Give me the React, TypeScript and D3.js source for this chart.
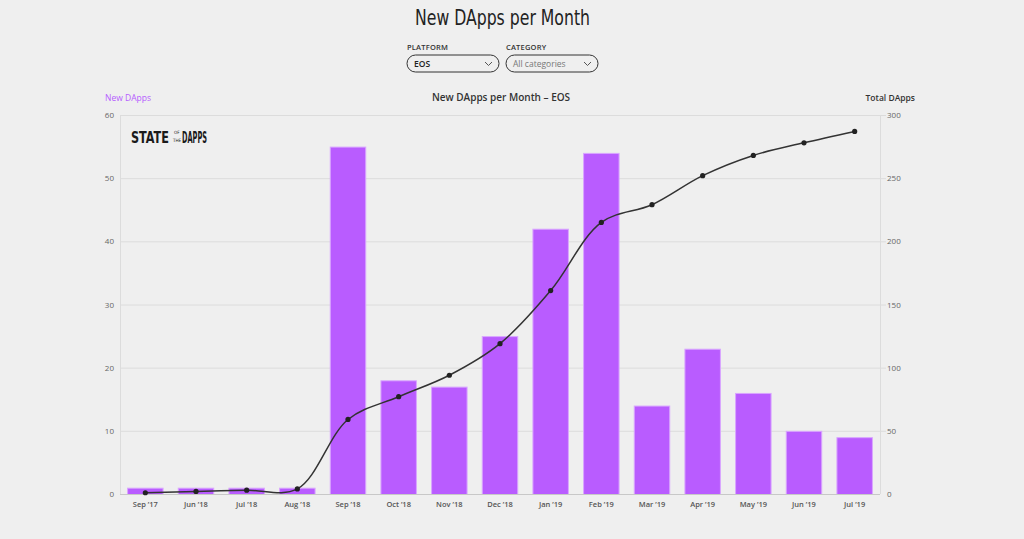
import { useEffect, useRef } from 'react';
import * as d3 from 'd3';

const months = ["Sep '17", "Jun '18", "Jul '18", "Aug '18", "Sep '18", "Oct '18", "Nov '18", "Dec '18", "Jan '19", "Feb '19", "Mar '19", "Apr '19", "May '19", "Jun '19", "Jul '19"];
const newDapps = [1, 1, 1, 1, 55, 18, 17, 25, 42, 54, 14, 23, 16, 10, 9];
const totalDapps = [1, 2, 3, 4, 59, 77, 94, 119, 161, 215, 229, 252, 268, 278, 287];
const leftTicks = [0, 10, 20, 30, 40, 50, 60];
const rightTicks = [0, 50, 100, 150, 200, 250, 300];

const W = 1024;
const H = 539;
const COLORS = {
  bg: '#efefef',
  bar: '#b95cff',
  barStroke: '#d9a6ff',
  line: '#333333',
  grid: '#dcdcdc',
  axis: '#c8c8c8',
  tick: '#666666',
  text: '#333333',
  purple: '#b65cff',
};
const COND = '"DejaVu Sans Condensed", "DejaVu Sans", sans-serif';
const SANS = '"Open Sans", "Noto Sans", sans-serif';

export default function App() {
  const svgRef = useRef<SVGSVGElement>(null);

  useEffect(() => {
    if (!svgRef.current) return;
    const svg = d3.select(svgRef.current);
    svg.selectAll('*').remove();

    const m = { left: 120, right: 880, top: 115, bottom: 494 };

    svg.append('rect').attr('width', W).attr('height', H).attr('fill', COLORS.bg);

    // page title
    svg.append('text')
      .attr('x', 415).attr('y', 25)
      .attr('font-family', COND)
      .attr('font-size', 22)
      .attr('font-stretch', 'condensed')
      .attr('textLength', 175)
      .attr('lengthAdjust', 'spacingAndGlyphs')
      .attr('fill', '#222')
      .text('New DApps per Month');

    // dropdowns
    const drops = [
      { label: 'PLATFORM', value: 'EOS', x: 407, color: '#222' },
      { label: 'CATEGORY', value: 'All categories', x: 506, color: '#777' },
    ];
    drops.forEach((d) => {
      svg.append('text')
        .attr('x', d.x).attr('y', 50)
        .attr('font-family', SANS).attr('font-size', 7.5).attr('font-weight', 600)
        .attr('fill', '#333').attr('letter-spacing', 0.2)
        .text(d.label);
      svg.append('rect')
        .attr('x', d.x).attr('y', 55).attr('width', 92).attr('height', 17)
        .attr('rx', 8.5).attr('fill', 'none').attr('stroke', '#333').attr('stroke-width', 1);
      svg.append('text')
        .attr('x', d.x + 7).attr('y', 66.5)
        .attr('font-family', SANS).attr('font-size', 8.5).attr('font-weight', d.value === 'EOS' ? 600 : 400)
        .attr('fill', d.color)
        .text(d.value);
      svg.append('path')
        .attr('d', `M${d.x + 78},62 l3.5,3.5 l3.5,-3.5`)
        .attr('fill', 'none').attr('stroke', '#555').attr('stroke-width', 1);
    });

    // chart headers
    svg.append('text')
      .attr('x', 501).attr('y', 101).attr('text-anchor', 'middle')
      .attr('font-family', SANS).attr('font-size', 10).attr('font-weight', 600).attr('fill', COLORS.text)
      .text('New DApps per Month – EOS');
    svg.append('text')
      .attr('x', 105).attr('y', 101)
      .attr('font-family', SANS).attr('font-size', 8.5).attr('fill', COLORS.purple)
      .text('New DApps');
    svg.append('text')
      .attr('x', 915).attr('y', 101).attr('text-anchor', 'end')
      .attr('font-family', SANS).attr('font-size', 8.5).attr('font-weight', 600).attr('fill', COLORS.text)
      .text('Total DApps');

    const x = d3.scaleBand<string>().domain(months).range([m.left, m.right]).paddingInner(0.28).paddingOuter(0.14);
    const yL = d3.scaleLinear().domain([0, 60]).range([m.bottom, m.top]);
    const yR = d3.scaleLinear().domain([0, 300]).range([m.bottom, m.top]);

    // grid
    svg.append('g').selectAll('line').data(leftTicks.filter((t) => t > 0)).join('line')
      .attr('x1', m.left).attr('x2', m.right + 6)
      .attr('y1', (d) => yL(d) + 0.5).attr('y2', (d) => yL(d) + 0.5)
      .attr('stroke', COLORS.grid).attr('stroke-width', 1);

    // vertical axis lines
    [m.left, m.right].forEach((xx) => {
      svg.append('line')
        .attr('x1', xx + 0.5).attr('x2', xx + 0.5).attr('y1', m.top).attr('y2', m.bottom)
        .attr('stroke', COLORS.grid);
    });

    // left ticks
    svg.append('g').selectAll('text').data(leftTicks).join('text')
      .attr('x', 114).attr('y', (d) => yL(d) + 3)
      .attr('text-anchor', 'end')
      .attr('font-family', SANS).attr('font-size', 8).attr('fill', COLORS.tick)
      .text((d) => d);

    // right ticks
    svg.append('g').selectAll('text').data(rightTicks).join('text')
      .attr('x', 887).attr('y', (d) => yR(d) + 3)
      .attr('font-family', SANS).attr('font-size', 8).attr('fill', COLORS.tick)
      .text((d) => d);

    // logo: STATE [OF/THE] DAPPS — big words squeezed horizontally by a scale transform
    const logo = svg.append('g').attr('font-family', COND).attr('font-weight', 700).attr('fill', '#1a1a1a');
    const squeeze = (word: string, x0: number, width: number) => {
      const g = logo.append('g');
      const t = g.append('text').attr('x', 0).attr('y', 0).attr('font-size', 16).text(word);
      const natural = (t.node() as SVGTextElement).getComputedTextLength() || width;
      g.attr('transform', `translate(${x0},142.5) scale(${width / natural},1)`);
    };
    squeeze('STATE', 131, 38);
    squeeze('DAPPS', 182, 25);
    logo.append('text').attr('x', 174).attr('y', 134).attr('font-size', 4.5).attr('font-weight', 400).text('OF');
    logo.append('text').attr('x', 173).attr('y', 142).attr('font-size', 4.5).attr('font-weight', 400).text('THE');

    // bars
    svg.append('g').selectAll('rect').data(newDapps).join('rect')
      .attr('x', (_, i) => (x(months[i]) as number) + 0.5)
      .attr('y', (d) => yL(d) + 0.5)
      .attr('width', x.bandwidth() - 1)
      .attr('height', (d) => m.bottom - yL(d))
      .attr('fill', COLORS.bar)
      .attr('stroke', COLORS.barStroke)
      .attr('stroke-width', 1);

    // x axis line
    svg.append('line')
      .attr('x1', m.left).attr('x2', m.right).attr('y1', m.bottom + 0.5).attr('y2', m.bottom + 0.5)
      .attr('stroke', COLORS.axis);

    // x labels
    svg.append('g').selectAll('text').data(months).join('text')
      .attr('x', (d) => (x(d) as number) + x.bandwidth() / 2)
      .attr('y', 507)
      .attr('text-anchor', 'middle')
      .attr('font-family', SANS).attr('font-size', 7.5).attr('font-weight', 600).attr('fill', '#555')
      .text((d) => d.replace("'", '’'));

    // total line
    const cx = (i: number) => (x(months[i]) as number) + x.bandwidth() / 2;
    const line = d3.line<number>()
      .x((_, i) => cx(i))
      .y((d) => yR(d))
      .curve(d3.curveCatmullRom.alpha(0.5));
    svg.append('path')
      .attr('d', line(totalDapps) as string)
      .attr('fill', 'none').attr('stroke', COLORS.line).attr('stroke-width', 1.5);
    svg.append('g').selectAll('circle').data(totalDapps).join('circle')
      .attr('cx', (_, i) => cx(i)).attr('cy', (d) => yR(d)).attr('r', 2.6)
      .attr('fill', '#222');
  }, []);

  return (
    <svg ref={svgRef} width={W} height={H} style={{ position: 'absolute', left: 0, top: 0, display: 'block' }} />
  );
}
